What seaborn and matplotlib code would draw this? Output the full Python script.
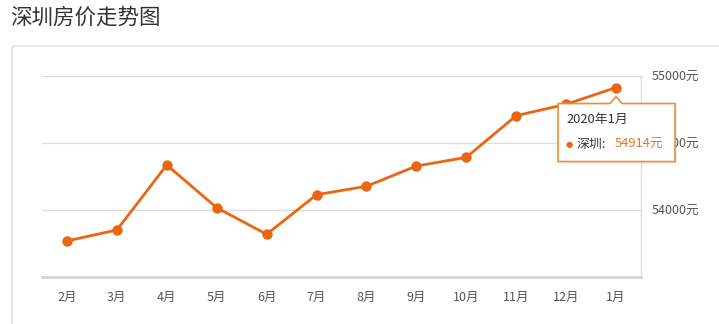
import matplotlib
matplotlib.use("Agg")
import matplotlib.pyplot as plt
import seaborn as sns
import pandas as pd
import numpy as np
from matplotlib.patches import FancyBboxPatch, Polygon
from matplotlib.transforms import IdentityTransform

months = ["2月", "3月", "4月", "5月", "6月", "7月", "8月", "9月", "10月", "11月", "12月", "1月"]
prices = [53769, 53851, 54336, 54017, 53819, 54114, 54177, 54328, 54393, 54704, 54789, 54914]
ytick_values = [54000, 54500, 55000]
ytick_labels = ["54000元", "54500元", "55000元"]
title = "深圳房价走势图"
tip_title = "2020年1月"
tip_series = "深圳:"
tip_value = "54914元"

sns.set_theme(style="white")
plt.rcParams['font.family'] = ['Noto Sans CJK SC', 'DejaVu Sans']

W, H = 719, 324
fig = plt.figure(figsize=(W / 100, H / 100), dpi=100)
fig.patch.set_facecolor("white")

def fx(px):
    return px / W

def fy(py):
    return 1 - py / H

# outer panel
panel = FancyBboxPatch((fx(12), fy(340)), fx(740), (340 - 46) / H,
                       boxstyle="round,pad=0,rounding_size=0.006",
                       transform=fig.transFigure, facecolor="white",
                       edgecolor="#dcdcdc", linewidth=1.0, zorder=-10)
fig.patches.append(panel)

fig.text(fx(10), fy(18), title, fontsize=15.5, color="#333333",
         ha="left", va="center")

ax = fig.add_axes([fx(42), fy(277), fx(641 - 42), (277 - 76) / H])
ax.set_facecolor("none")
ax.set_zorder(1)

df = pd.DataFrame({"month": months, "price": prices, "x": np.arange(len(months))})
orange = "#ea6612"
sns.lineplot(data=df, x="x", y="price", ax=ax, color=orange, linewidth=2.0,
             marker="o", markersize=7.5, markeredgewidth=0, zorder=3)

ax.set_xlim(-0.5, len(months) - 0.5)
ax.set_ylim(53500, 55000)
ax.set_xticks(df["x"])
ax.set_xticklabels(months)
ax.set_yticks(ytick_values)
ax.set_yticklabels(ytick_labels)
ax.yaxis.tick_right()
ax.set_xlabel("")
ax.set_ylabel("")
ax.grid(axis="y", color="#dddddd", linewidth=1.0)
ax.grid(axis="x", visible=False)
ax.tick_params(axis="x", colors="#dddddd", length=4, width=1, labelcolor="#555555",
               labelsize=9, pad=6, direction="out")
ax.tick_params(axis="y", length=0, labelcolor="#555555", labelsize=9, pad=8)
for s in ["left", "top"]:
    ax.spines[s].set_visible(False)
ax.spines["bottom"].set_color("#d6d6d6")
ax.spines["bottom"].set_linewidth(2.0)
ax.spines["right"].set_color("#dddddd")
ax.spines["right"].set_linewidth(1.0)

# tooltip anchored at the last point
fig.canvas.draw()
px, py = ax.transData.transform((len(months) - 1, prices[-1]))
left, right = px - 58, px + 59
top, bottom = py - 16, py - 74
ah = 7
pts = [(left, top), (px - 6, top), (px, top + ah), (px + 6, top), (right, top),
       (right, bottom), (left, bottom)]
shadow = Polygon([(x + 2, y - 2) for x, y in pts], closed=True, transform=IdentityTransform(),
                 facecolor="#000000", alpha=0.08, edgecolor="none", zorder=9)
fig.patches.append(shadow)
tip = Polygon(pts, closed=True, transform=IdentityTransform(),
              facecolor="white", edgecolor="#ee8a3c", linewidth=1.2, zorder=10)
fig.patches.append(tip)
fig.text(left + 8, py - 32, tip_title, transform=IdentityTransform(), fontsize=9.3,
         color="#333333", ha="left", va="center", zorder=11)
fig.text(left + 11, py - 57, "●", transform=IdentityTransform(), fontsize=6,
         color=orange, ha="center", va="center", family=['DejaVu Sans'], zorder=11)
fig.text(left + 18, py - 57, tip_series, transform=IdentityTransform(), fontsize=9.3,
         color="#333333", ha="left", va="center", zorder=11)
fig.text(left + 57, py - 57, tip_value, transform=IdentityTransform(), fontsize=9.3,
         color="#e07a2c", ha="left", va="center", zorder=11)

fig.savefig("out.png", dpi=100, facecolor="white")
